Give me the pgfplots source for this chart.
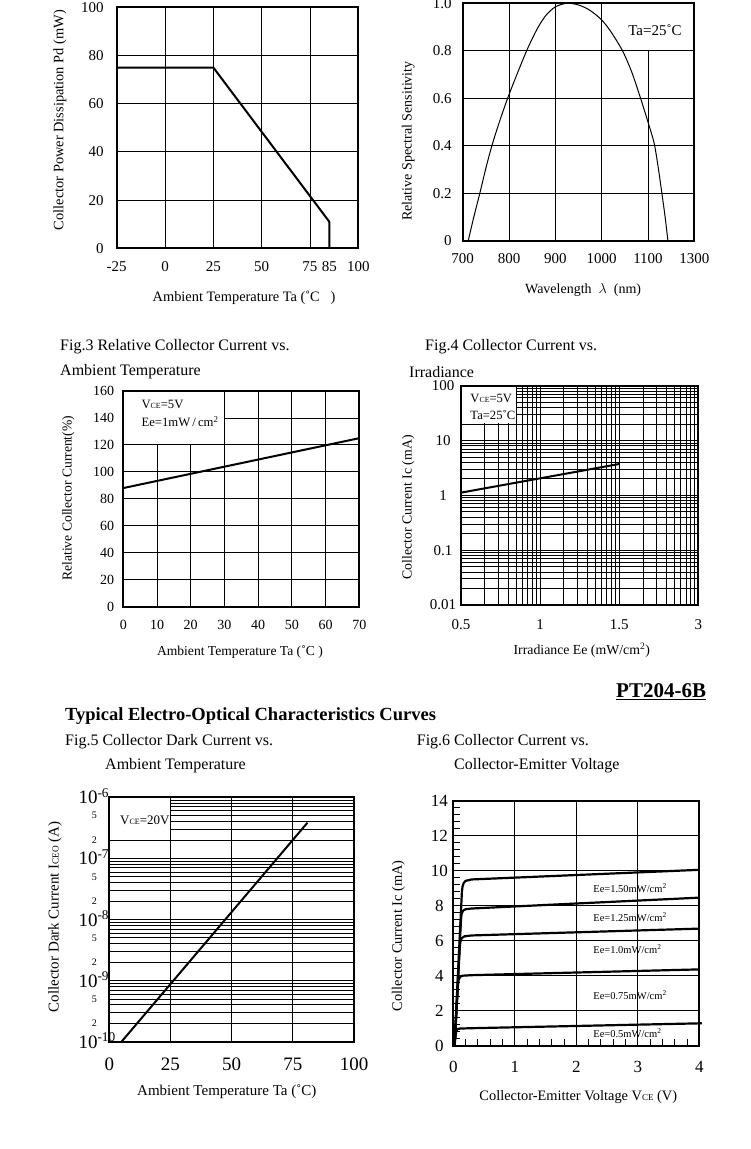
\documentclass[border=0pt]{standalone}
\usepackage{fontspec}
\setmainfont{Liberation Serif}
\usepackage{pgfplots}
\pgfplotsset{compat=1.18}

\newcommand\fs[1]{\fontsize{#1}{#1}\selectfont}
\newcommand\sub[1]{{\fontsize{0.62em}{0.62em}\selectfont #1}}

\pgfplotsset{
  ds/.style={
    scale only axis, anchor=south west,
    axis line style={line width=1.8pt},
    grid style={line width=0.9pt, black},
    major tick length=0pt, minor tick length=0pt,
    /pgf/number format/assume math mode=true,
    tick label style={inner sep=0pt},
    label style={inner sep=0pt, anchor=center},
  },
}

\begin{document}
\begin{tikzpicture}
\useasboundingbox (0,0) rectangle (750pt,1149pt);

% Fig.1 power dissipation
\begin{axis}[ds, at={(116.7pt,900.7pt)}, width=241.6pt, height=241pt,
  xmin=-25, xmax=100, ymin=0, ymax=100,
  xtick={-25,0,25,50,75,100}, extra x ticks={85}, extra x tick style={grid=none},
  ytick={0,20,40,60,80,100}, grid=major,
  xticklabel style={font=\fs{15}, anchor=center, yshift=-18pt},
  yticklabel style={font=\fs{15}, anchor=east, xshift=-13pt},
  label style={font=\fs{14.4}},
  xlabel={Ambient Temperature Ta (˚C\ \ \ )},
  ylabel={Collector Power Dissipation Pd (mW)},
  xlabel style={at={(axis description cs:0.527,-0.206)}},
  ylabel style={at={(axis description cs:-0.235,0.532)}},
]
\addplot[line width=2pt, line join=round] coordinates {(-25,75) (25,75) (85,11) (85,0)};
\end{axis}

% Fig.2 spectral sensitivity
\begin{axis}[ds, at={(462.7pt,908.3pt)}, width=231.6pt, height=237.4pt,
  xmin=700, xmax=1200, ymin=0, ymax=1,
  xtick={700,800,900,1000,1100,1200}, xticklabels={700,800,900,1000,1100,1300},
  ytick={0,0.2,0.4,0.6,0.8,1}, yticklabels={0,0.2,0.4,0.6,0.8,1.0},
  ymajorgrids,
  xticklabel style={font=\fs{15}, anchor=center, yshift=-17.6pt},
  yticklabel style={font=\fs{15}, anchor=east, xshift=-11pt},
  label style={font=\fs{14}},
  xlabel={Wavelength\ \ $\lambda$\ \ (nm)},
  ylabel={Relative Spectral Sensitivity},
  xlabel style={at={(axis description cs:0.52,-0.208)}},
  ylabel style={at={(axis description cs:-0.235,0.42)}},
]
\draw[line width=0.9pt] (axis cs:800,0) -- (axis cs:800,1);
\draw[line width=0.9pt] (axis cs:900,0) -- (axis cs:900,1);
\draw[line width=0.9pt] (axis cs:1000,0) -- (axis cs:1000,1);
\draw[line width=0.9pt] (axis cs:1100,0) -- (axis cs:1100,0.8);
\addplot[line width=1pt, smooth] coordinates {
  (712,0) (724,0.1) (737,0.2) (750,0.305) (763,0.4) (780,0.505) (798,0.605)
  (818,0.705) (838,0.8) (850,0.85) (863,0.9) (880,0.95) (900,0.985) (925,1.0)
  (950,0.993) (975,0.97) (1000,0.93) (1020,0.88) (1045,0.8) (1065,0.71)
  (1084,0.6) (1100,0.5) (1107,0.455) (1114,0.405) (1122,0.31) (1130,0.2)
  (1137,0.1) (1143,0)};
\node[font=\fs{15}] at (axis cs:1115,0.8875) {Ta=25˚C};
\end{axis}

% Fig.3 relative collector current vs temperature
\begin{axis}[ds, at={(123.3pt,542.3pt)}, width=236pt, height=215.7pt,
  xmin=0, xmax=70, ymin=0, ymax=160,
  xtick={0,10,...,70}, ytick={0,20,...,160}, grid=major,
  xticklabel style={font=\fs{14}, anchor=center, yshift=-18.3pt},
  yticklabel style={font=\fs{14}, anchor=east, xshift=-9pt},
  label style={font=\fs{13.6}},
  xlabel={Ambient Temperature Ta (˚C )},
  ylabel={Relative Collector Current(\%)},
  xlabel style={at={(axis description cs:0.494,-0.209)}},
  ylabel style={at={(axis description cs:-0.233,0.503)}},
]
\fill[white] ([xshift=0.9pt,yshift=0.6pt]axis cs:0,120) rectangle ([xshift=-0.6pt,yshift=-0.9pt]axis cs:30,160);
\addplot[line width=2pt] coordinates {(0,88) (70,125)};
\node[anchor=west, font=\fs{12.7}] at (axis cs:4.36,150.3) {V\sub{CE}=5V};
\node[anchor=west, font=\fs{12.7}] at (axis cs:4.36,137.2) {Ee=1mW\,/\,cm\textsuperscript{2}};
\end{axis}

% Fig.4 collector current vs irradiance
\begin{axis}[ds, at={(461pt,544pt)}, width=237.3pt, height=219.3pt,
  xmode=log, ymode=log, xmin=1, xmax=1000, ymin=0.01, ymax=100,
  xtick={1,10,100,1000}, xticklabels={0.5,1,1.5,3},
  minor xtick={2,3,4,5,6,7,8,9,20,30,40,50,60,70,80,90,200,300,400,500,600,700,800,900},
  ytick={0.01,0.1,1,10,100}, yticklabels={0.01,0.1,1,10,100},
  minor ytick={0.02,0.03,0.04,0.05,0.06,0.07,0.08,0.09,0.2,0.3,0.4,0.5,0.6,0.7,0.8,0.9,2,3,4,5,6,7,8,9,20,30,40,50,60,70,80,90},
  grid=both, minor grid style={line width=0.9pt, black},
  xticklabel style={font=\fs{15}, anchor=center, yshift=-20pt},
  yticklabel style={font=\fs{15}, anchor=center, xshift=-18pt},
  label style={font=\fs{13.8}},
  xlabel={Irradiance Ee (mW/cm\textsuperscript{2})},
  ylabel={Collector Current Ic (mA)},
  xlabel style={at={(axis description cs:0.509,-0.205)}},
  ylabel style={at={(axis description cs:-0.222,0.445)}},
]
\fill[white] ([xshift=0.9pt,yshift=0.6pt]axis cs:1,20) rectangle ([xshift=-0.6pt,yshift=-0.9pt]axis cs:5,100);
\addplot[line width=2pt] coordinates {(1,1.12) (100,3.73)};
\node[anchor=west, font=\fs{12.6}] at (rel axis cs:0.025,0.9425) {V\sub{CE}=5V};
\node[anchor=west, font=\fs{12.6}] at (rel axis cs:0.025,0.866) {Ta=25˚C};
\end{axis}

% Fig.5 dark current vs temperature
\begin{axis}[ds, at={(109.3pt,107.3pt)}, width=244.7pt, height=244.4pt,
  ymode=log, xmin=0, xmax=100, ymin=1e-10, ymax=1e-6,
  xtick={0,25,50,75,100},
  ytick={1e-10,1e-9,1e-8,1e-7,1e-6},
  yticklabels={10\textsuperscript{-10},10\textsuperscript{-9},10\textsuperscript{-8},10\textsuperscript{-7},10\textsuperscript{-6}},
  minor ytick={2e-10,3e-10,4e-10,5e-10,6e-10,7e-10,8e-10,9e-10,
    2e-9,3e-9,4e-9,5e-9,6e-9,7e-9,8e-9,9e-9,
    2e-8,3e-8,4e-8,5e-8,6e-8,7e-8,8e-8,9e-8,
    2e-7,3e-7,4e-7,5e-7,6e-7,7e-7,8e-7,9e-7},
  xmajorgrids, ymajorgrids, yminorgrids, minor grid style={line width=0.9pt, black},
  extra y ticks={2e-10,5e-10,2e-9,5e-9,2e-8,5e-8,2e-7,5e-7},
  extra y tick labels={2,5,2,5,2,5,2,5},
  extra y tick style={grid=none, yticklabel style={font=\fs{10}, anchor=center, xshift=16pt, yshift=6.5pt}},
  xticklabel style={font=\fs{19}, anchor=center, yshift=-23pt},
  yticklabel style={font=\fs{19}, anchor=base west, xshift=-31pt, yshift=-6.5pt},
  label style={font=\fs{15}},
  xlabel={Ambient Temperature Ta (˚C)},
  ylabel={Collector Dark Current I\sub{CEO} (A)},
  xlabel style={at={(axis description cs:0.48,-0.2046)}},
  ylabel style={at={(axis description cs:-0.222,0.511)}},
]
\fill[white] ([xshift=0.9pt,yshift=0.6pt]axis cs:0,2.1e-7) rectangle ([xshift=-0.6pt,yshift=-0.9pt]axis cs:25,1e-6);
\addplot[line width=2pt] coordinates {(5,1e-10) (81,3.85e-7)};
\node[anchor=west, font=\fs{13}] at (rel axis cs:0.03,0.907) {V\sub{CE}=20V};
\end{axis}

% Fig.6 collector current vs VCE
\begin{axis}[ds, at={(453.3pt,103.3pt)}, width=246pt, height=245pt,
  xmin=0, xmax=4, ymin=0, ymax=14, clip=false,
  xtick={0,1,2,3,4}, ytick={0,2,...,14}, grid=major,
  minor x tick num=4, minor y tick num=4,
  minor tick length=6.5pt, tick align=inside, xtick pos=left, ytick pos=left,
  minor tick style={line width=0.9pt, black},
  xticklabel style={font=\fs{17}, anchor=center, yshift=-21pt},
  yticklabel style={font=\fs{17}, anchor=center, xshift=-14pt},
  label style={font=\fs{14.4}},
  xlabel={Collector-Emitter Voltage V\sub{CE} (V)},
  ylabel={Collector Current Ic (mA)},
  xlabel style={at={(axis description cs:0.508,-0.208)}},
  ylabel style={at={(axis description cs:-0.2236,0.449)}},
]
\addplot[line width=2.2pt, line join=round] coordinates {(0.02,0) (0.14,8.8) (0.15,9.1) (0.17,9.3) (0.2,9.42) (0.3,9.5) (4,10.05)};
\addplot[line width=2.2pt, line join=round] coordinates {(0.02,0) (0.125,7.2) (0.135,7.55) (0.16,7.72) (0.2,7.8) (0.3,7.84) (4,8.46)};
\addplot[line width=2.2pt, line join=round] coordinates {(0.02,0) (0.105,5.6) (0.115,5.95) (0.14,6.15) (0.18,6.25) (0.3,6.3) (4,6.69)};
\addplot[line width=2.2pt, line join=round] coordinates {(0.02,0) (0.075,3.4) (0.085,3.75) (0.11,3.93) (0.15,4.0) (0.3,4.03) (4,4.36)};
\addplot[line width=2.2pt, line join=round] coordinates {(0.02,0) (0.04,0.65) (0.05,0.85) (0.07,0.95) (0.11,0.98) (0.3,1.0) (4.04,1.28)};
\node[anchor=west, font=\fs{10.5}] at (axis cs:2.22,9.0) {Ee=1.50mW/cm\textsuperscript{2}};
\node[anchor=west, font=\fs{10.5}] at (axis cs:2.22,7.37) {Ee=1.25mW/cm\textsuperscript{2}};
\node[anchor=west, font=\fs{10.5}] at (axis cs:2.22,5.51) {Ee=1.0mW/cm\textsuperscript{2}};
\node[anchor=west, font=\fs{10.5}] at (axis cs:2.22,2.9) {Ee=0.75mW/cm\textsuperscript{2}};
\node[anchor=west, font=\fs{10.5}] at (axis cs:2.22,0.74) {Ee=0.5mW/cm\textsuperscript{2}};
\end{axis}

% titles
\begin{scope}[every node/.style={anchor=west, inner sep=0pt, font=\fs{16}}]
\node at (60pt,802pt) {Fig.3 Relative Collector Current vs.};
\node at (60pt,777.3pt) {Ambient Temperature};
\node at (425pt,802pt) {Fig.4 Collector Current vs.};
\node at (409pt,777.3pt) {Irradiance};
\node[font=\fs{21}\bfseries] at (616pt,457.3pt) {\underline{PT204-6B}};
\node[font=\fs{18.5}\bfseries] at (65pt,433pt) {Typical Electro-Optical Characteristics Curves};
\node at (65pt,407.3pt) {Fig.5 Collector Dark Current vs.};
\node at (105pt,383pt) {Ambient Temperature};
\node at (416.7pt,407.3pt) {Fig.6 Collector Current vs.};
\node at (454pt,383pt) {Collector-Emitter Voltage};
\end{scope}
\end{tikzpicture}
\end{document}
